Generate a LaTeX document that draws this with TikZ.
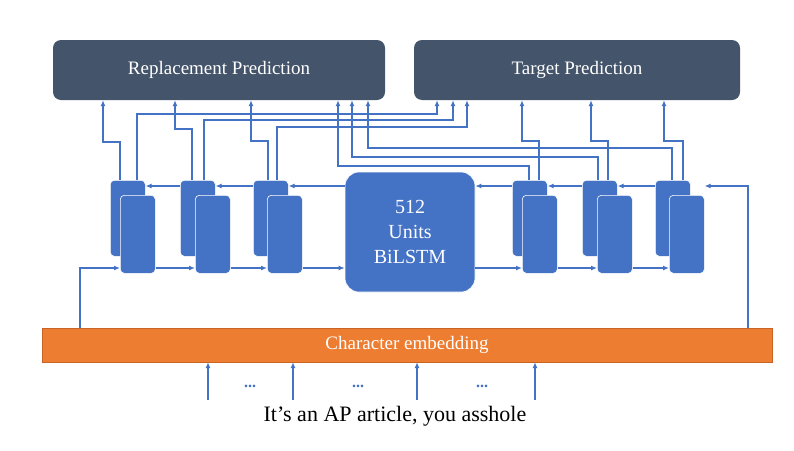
\documentclass[tikz,border=0pt]{standalone}
\usepackage{fontspec}
\setmainfont{Liberation Serif}
\begin{document}
\begin{tikzpicture}[x=1pt,y=-1pt,
  cellb/.style={draw=white,line width=0.6pt,fill={rgb,255:red,68;green,114;blue,196},rounded corners=4pt,inner sep=0},
  ln/.style={draw={rgb,255:red,68;green,114;blue,196},line width=1.2pt,-{Latex[length=6pt,width=5pt]}},
  top/.style={fill={rgb,255:red,68;green,84;blue,106},rounded corners=8pt,text=white,font=\fontsize{19}{22}\selectfont,inner sep=0}]
\usetikzlibrary{arrows.meta}
\useasboundingbox (0,0) rectangle (794,450);
\fill[white] (0,0) rectangle (794,450);
\node[top,minimum width=332,minimum height=60] (rp) at (219,70) {Replacement Prediction};
\node[top,minimum width=326,minimum height=60] (tp) at (577,70) {Target Prediction};
\node[fill={rgb,255:red,237;green,125;blue,49},draw={rgb,255:red,200;green,100;blue,40},minimum width=730,minimum height=34,inner sep=0,text=white,font=\fontsize{19}{22}\selectfont] (emb) at (407,345) {Character embedding};
\node[cellb,rounded corners=14pt,minimum width=130,minimum height=120,text=white,align=center,font=\fontsize{20}{25}\selectfont] (bi) at (410,232) {512\\Units\\BiLSTM};
% cells: back (b) and front (f)
\foreach \n/\bx/\fx in {1/110/120,2/180/195,3/253/267,4/512/522,5/582/597,6/655/669}{
  \node[cellb,anchor=north west,minimum width=35,minimum height=76] (b\n) at (\bx,180) {};
  \node[cellb,anchor=north west,minimum width=35,minimum height=78] (f\n) at (\fx,195) {};
}
% top row leftward
\draw[ln] (b2.west|-0,186) -- (b1.east|-0,186);
\draw[ln] (b3.west|-0,186) -- (b2.east|-0,186);
\draw[ln] (bi.west|-0,186) -- (b3.east|-0,186);
\draw[ln] (b4.west|-0,186) -- (bi.east|-0,186);
\draw[ln] (b5.west|-0,186) -- (b4.east|-0,186);
\draw[ln] (b6.west|-0,186) -- (b5.east|-0,186);
\draw[ln] (emb.north-|748,0) -- (748,186) -- (f6.east|-0,186);
% bottom row rightward
\draw[ln] (emb.north-|80,0) -- (80,268) -- (f1.west|-0,268);
\draw[ln] (f1.east|-0,268) -- (f2.west|-0,268);
\draw[ln] (f2.east|-0,268) -- (f3.west|-0,268);
\draw[ln] (f3.east|-0,268) -- (bi.west|-0,268);
\draw[ln] (bi.east|-0,268) -- (f4.west|-0,268);
\draw[ln] (f4.east|-0,268) -- (f5.west|-0,268);
\draw[ln] (f5.east|-0,268) -- (f6.west|-0,268);
% outputs left cells
\draw[ln] (b1.north-|120,0) -- (120,142) -- (103,142) -- (rp.south-|103,0);
\draw[ln] (b1.north-|137,0) -- (137,114) -- (437,114) -- (tp.south-|437,0);
\draw[ln] (b2.north-|192,0) -- (192,129) -- (175,129) -- (rp.south-|175,0);
\draw[ln] (b2.north-|204,0) -- (204,120) -- (453,120) -- (tp.south-|453,0);
\draw[ln] (b3.north-|268,0) -- (268,141) -- (251,141) -- (rp.south-|251,0);
\draw[ln] (b3.north-|277,0) -- (277,127) -- (467,127) -- (tp.south-|467,0);
% outputs right cells
\draw[ln] (b4.north-|529,0) -- (529,166) -- (338,166) -- (rp.south-|338,0);
\draw[ln] (b4.north-|539,0) -- (539,141) -- (522,141) -- (tp.south-|522,0);
\draw[ln] (b5.north-|598,0) -- (598,157) -- (352,157) -- (rp.south-|352,0);
\draw[ln] (b5.north-|608,0) -- (608,141) -- (591,141) -- (tp.south-|591,0);
\draw[ln] (b6.north-|672,0) -- (672,148) -- (368,148) -- (rp.south-|368,0);
\draw[ln] (b6.north-|683,0) -- (683,141) -- (664,141) -- (tp.south-|664,0);
% inputs
\node[font=\fontsize{22}{26}\selectfont,inner sep=0] (txt) at (395,416) {It’s an AP article, you asshole};
\foreach \x/\nm in {208/i1,293/i2,417/i3,535/i4}{
  \coordinate (\nm) at (\x,400);
  \draw[ln] (\nm) -- (emb.south-|\x,0);
}
\foreach \x/\nm in {250/d1,358/d2,482/d3}{
  \node[text={rgb,255:red,68;green,114;blue,196},font=\bfseries\fontsize{16}{16}\selectfont,inner sep=0] (\nm) at (\x,386) {...};
}
\end{tikzpicture}
\end{document}
